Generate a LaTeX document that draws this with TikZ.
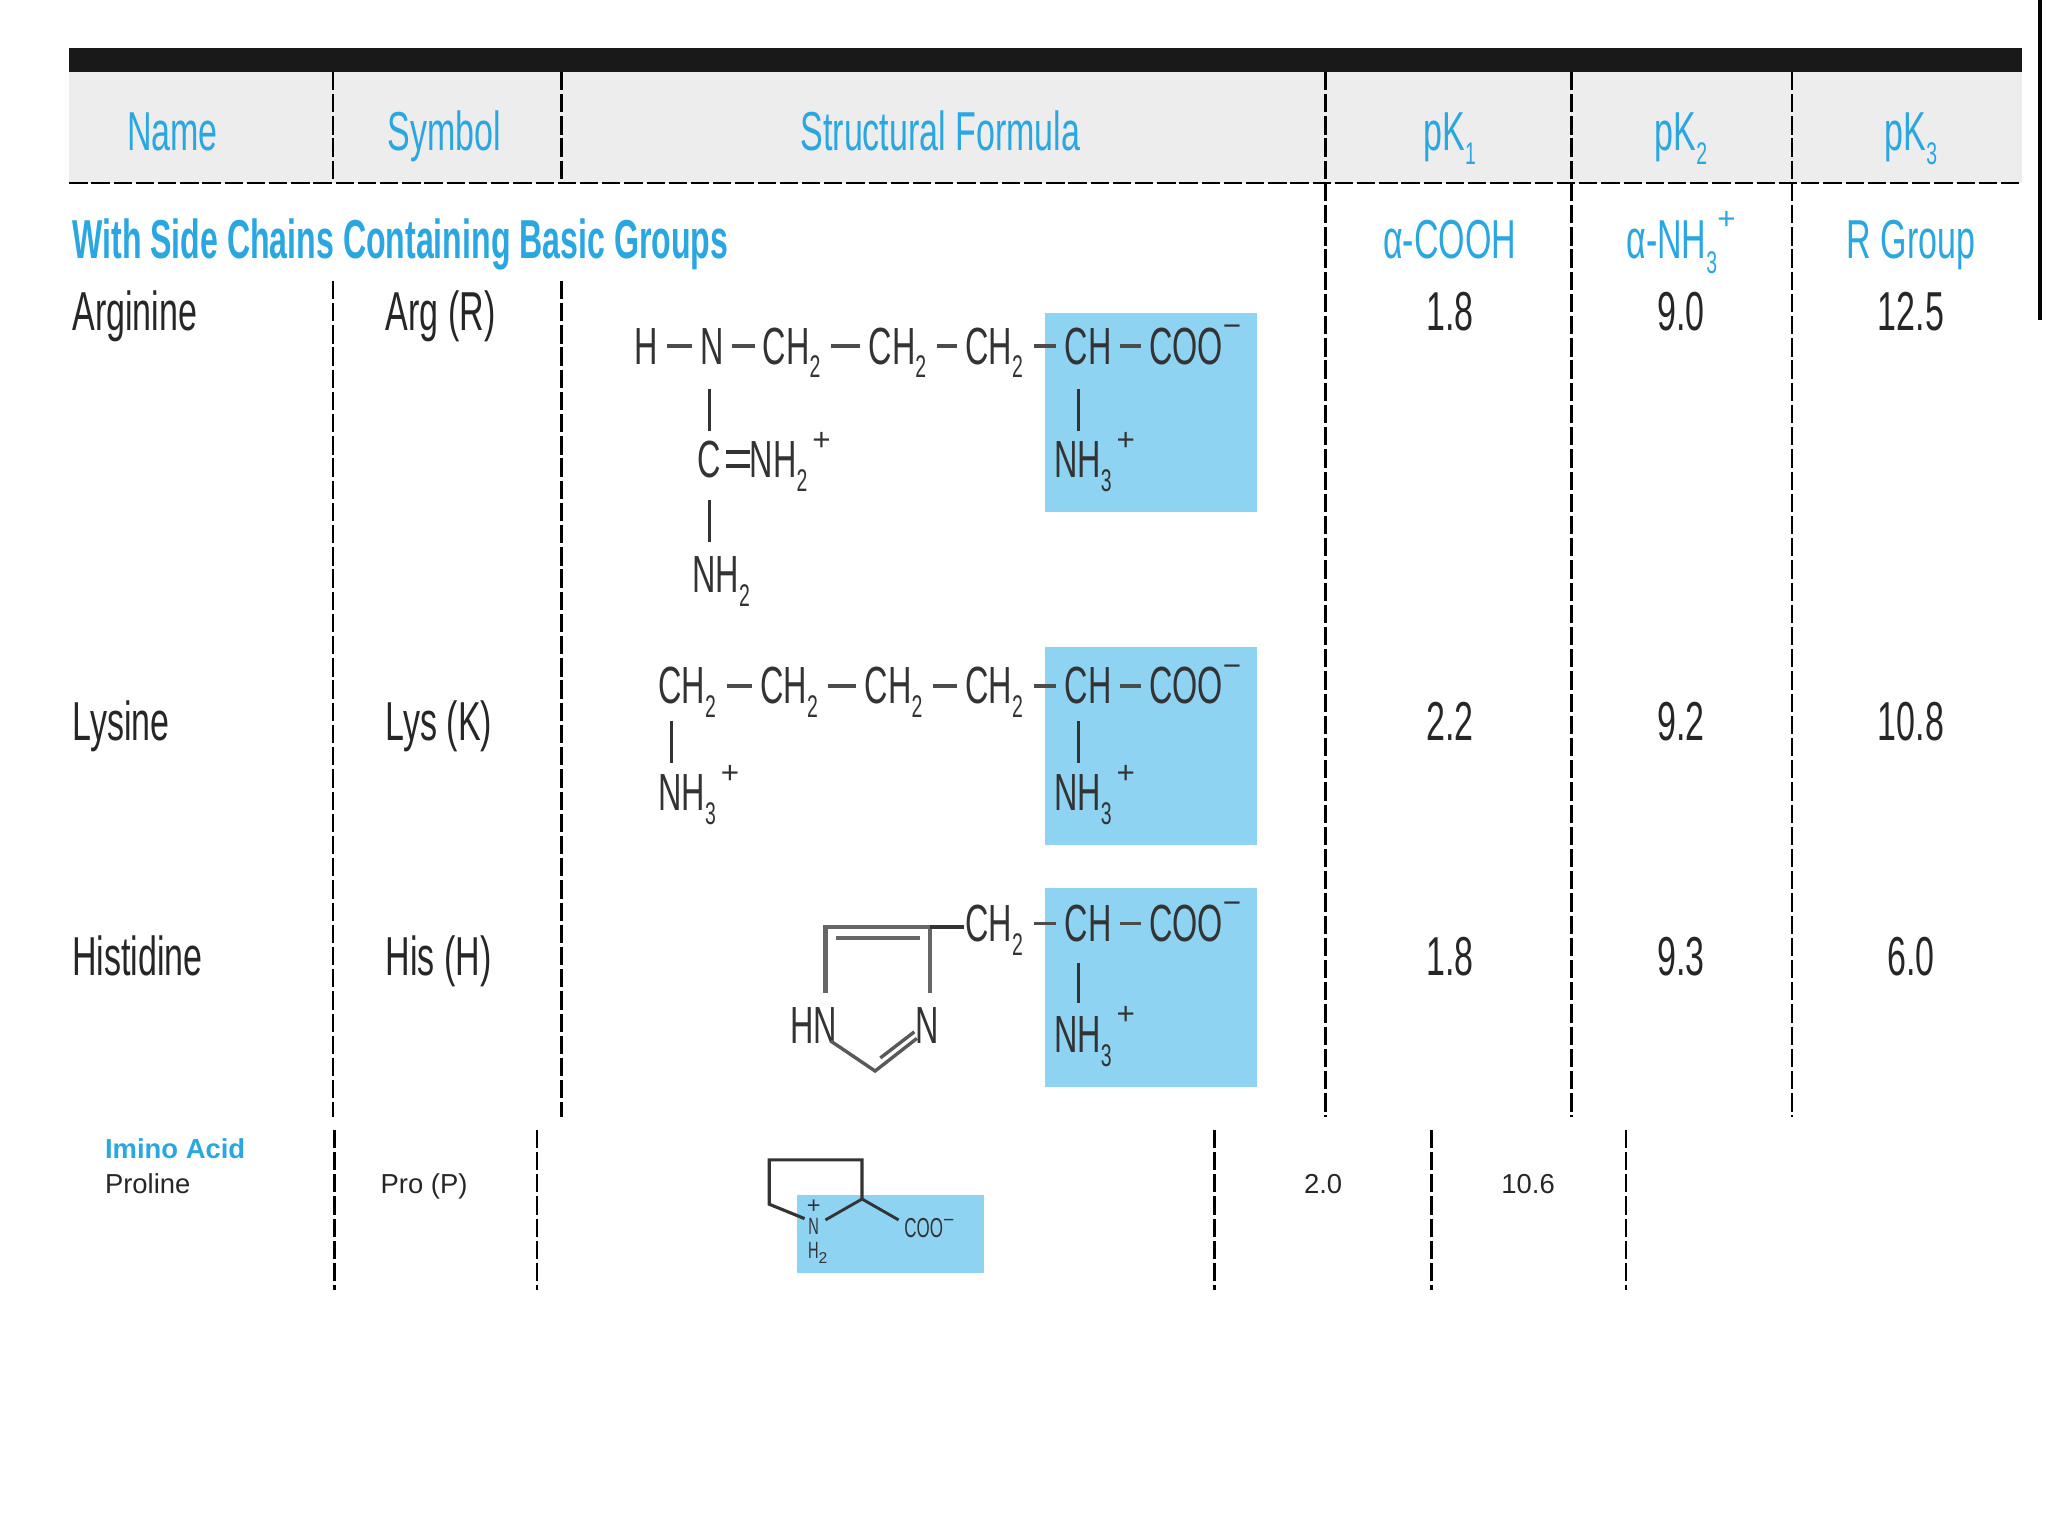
\documentclass[tikz,border=0pt]{standalone}
\usepackage{fontspec}
\setmainfont{Liberation Sans}
\usepackage{graphicx}
\definecolor{hb}{HTML}{2AA7E1}
\definecolor{bx}{HTML}{8FD3F2}
\definecolor{hg}{HTML}{EDEDED}
\newcommand\cn[1]{\scalebox{0.62}[1]{#1}}
\newcommand\sbs[1]{\smash{\raisebox{-0.5ex}{\fontsize{12}{12}\selectfont\cn{#1}}}}
\newcommand\sps[1]{\smash{\raisebox{1.0ex}{\fontsize{12}{12}\selectfont #1}}}
\newcommand\rs[1]{\rlap{\sbs{#1}}}
\begin{document}
\begin{tikzpicture}[x=0.5pt,y=-0.5pt,
  hdr/.style={text=hb,font=\fontsize{21}{24}\selectfont,anchor=base},
  big/.style={font=\fontsize{21}{24}\selectfont,anchor=base,text=black!85},
  ch/.style={font=\fontsize{20}{24}\selectfont,inner sep=0pt,anchor=center,text=black!80},
  sm/.style={font=\fontsize{10.5}{12}\selectfont,anchor=base west,text=black!85},
  bond/.style={line width=1.4pt,black!70,shorten <=3pt,shorten >=3pt},
  vb/.style={line width=1.1pt,black!80},
  col/.style={dashed,dash pattern=on 7pt off 1.5pt,line width=1pt,black}]
\fill[white] (0,0) rectangle (1568,1176);
\useasboundingbox (0,0) rectangle (1568,1176);
% header
\fill[hg] (53,55) rectangle (1548,140);
\fill[black!90] (53,37) rectangle (1548,55);
\draw[col] (53,140) -- (1548,140);
\draw[black,line width=1.5pt] (1562,0) -- (1562,245);
\foreach \x in {255,430} {\draw[col] (\x,55) -- (\x,140); \draw[col] (\x,215) -- (\x,855);}
\foreach \x in {1015,1203,1372} \draw[col] (\x,55) -- (\x,855);
\foreach \x in {256,411,930,1096,1245} \draw[col] (\x,865) -- (\x,988);
\node[hdr] (hn) at (132,115) {\cn{Name}};
\node[hdr] (hs) at (340,115) {\cn{Symbol}};
\node[hdr] (hf) at (720,115) {\cn{Structural Formula}};
\node[hdr] (h1) at (1110,115) {\cn{pK}\sbs{1}};
\node[hdr] (h2) at (1287,115) {\cn{pK}\sbs{2}};
\node[hdr] (h3) at (1463,115) {\cn{pK}\sbs{3}};
\node[hdr,anchor=base west,inner sep=0pt] (sc) at (55,198) {\scalebox{0.585}[1]{\textbf{With Side Chains Containing Basic Groups}}};
\node[hdr] (s1) at (1110,198) {\cn{α-COOH}};
\node[hdr] (s2) at (1287,198) {\cn{α-NH}\sbs{3}\sps{+}};
\node[hdr] (s3) at (1463,198) {\cn{R Group}};
% rows
\node[big,anchor=base west,inner sep=0pt] (arg) at (55,253) {\cn{Arginine}};
\node[big,anchor=base west,inner sep=0pt] (argS) at (295,253) {\cn{Arg (R)}};
\node[big] (arg1) at (1110,253) {\cn{1.8}};
\node[big] (arg2) at (1287,253) {\cn{9.0}};
\node[big] (arg3) at (1463,253) {\cn{12.5}};
\node[big,anchor=base west,inner sep=0pt] (lys) at (55,567) {\cn{Lysine}};
\node[big,anchor=base west,inner sep=0pt] (lysS) at (295,567) {\cn{Lys (K)}};
\node[big] (lys1) at (1110,567) {\cn{2.2}};
\node[big] (lys2) at (1287,567) {\cn{9.2}};
\node[big] (lys3) at (1463,567) {\cn{10.8}};
\node[big,anchor=base west,inner sep=0pt] (his) at (55,747) {\cn{Histidine}};
\node[big,anchor=base west,inner sep=0pt] (hisS) at (295,747) {\cn{His (H)}};
\node[big] (his1) at (1110,747) {\cn{1.8}};
\node[big] (his2) at (1287,747) {\cn{9.3}};
\node[big] (his3) at (1463,747) {\cn{6.0}};
% blue boxes
\fill[bx] (800,240) rectangle (962,392);
\fill[bx] (800,495) rectangle (962,647);
\fill[bx] (800,680) rectangle (962,832);
\fill[bx] (610,915) rectangle (753,975);
% arginine formula
\node[ch] (a1) at (495,265) {\cn{H}};
\node[ch] (a2) at (545,265) {\cn{N}};
\node[ch] (a3) at (602,265) {\cn{CH}\rs{2}};
\node[ch] (a4) at (683,265) {\cn{CH}\rs{2}};
\node[ch] (a5) at (757,265) {\cn{CH}\rs{2}};
\node[ch] (a6) at (833,265) {\cn{CH}};
\node[ch] (a7) at (908,265) {\cn{COO}\rlap{\sps{−}}};
\draw[bond] (a1) -- (a2);
\draw[bond] (a2) -- (a3);
\draw[bond,shorten <=8pt] (a3) -- (a4);
\draw[bond,shorten <=8pt] (a4) -- (a5);
\draw[bond,shorten <=8pt] (a5) -- (a6);
\draw[bond] (a6) -- (a7);
\node[ch] (ac) at (543,352) {\cn{C}};
\node[ch] (an) at (592,352) {\cn{NH}\rs{2}\rlap{\kern6pt\sps{+}}};
\node[ch] (an2) at (548,440) {\cn{NH}\rs{2}};
\node[ch] (aa) at (825,352) {\cn{NH}\rs{3}\rlap{\kern6pt\sps{+}}};
\draw[vb] (543,298) -- (543,330);
\draw[vb] (543,383) -- (543,415);
\draw[vb] (826,298) -- (826,330);
\draw[line width=1.4pt,black!80] (556,346) -- (574,346) (556,357) -- (574,357);
% lysine formula
\node[ch] (l1) at (522,525) {\cn{CH}\rs{2}};
\node[ch] (l2) at (600,525) {\cn{CH}\rs{2}};
\node[ch] (l3) at (680,525) {\cn{CH}\rs{2}};
\node[ch] (l4) at (757,525) {\cn{CH}\rs{2}};
\node[ch] (l5) at (833,525) {\cn{CH}};
\node[ch] (l6) at (908,525) {\cn{COO}\rlap{\sps{−}}};
\draw[bond,shorten <=8pt] (l1) -- (l2);
\draw[bond,shorten <=8pt] (l2) -- (l3);
\draw[bond,shorten <=8pt] (l3) -- (l4);
\draw[bond,shorten <=8pt] (l4) -- (l5);
\draw[bond] (l5) -- (l6);
\node[ch] (ln) at (522,607) {\cn{NH}\rs{3}\rlap{\kern6pt\sps{+}}};
\node[ch] (la) at (825,607) {\cn{NH}\rs{3}\rlap{\kern6pt\sps{+}}};
\draw[vb] (514,552) -- (514,584);
\draw[vb] (826,552) -- (826,584);
% histidine formula
\node[ch] (h4) at (757,707) {\cn{CH}\rs{2}};
\node[ch] (h5) at (833,707) {\cn{CH}};
\node[ch] (h6) at (908,707) {\cn{COO}\rlap{\sps{−}}};
\draw[bond,shorten <=8pt] (h4) -- (h5);
\draw[bond] (h5) -- (h6);
\node[ch] (hh) at (623,785) {\cn{HN}};
\node[ch] (hN) at (710,785) {\cn{N}};
\node[ch] (ha) at (825,792) {\cn{NH}\rs{3}\rlap{\kern6pt\sps{+}}};
\draw[vb] (826,737) -- (826,768);
\draw[line width=1.6pt,black!60] (632,760) -- (632,710) -- (712,710) -- (712,760);
\draw[line width=1.6pt,black!60] (640,718) -- (704,718);
\draw[line width=1.6pt,black!80] (712,710) -- (738,710);
\draw[line width=1.3pt,black!65] (636,797) -- (670,820) -- (702,795);
\draw[line width=1.3pt,black!65] (674,810) -- (700,790);
% proline
\node[font=\fontsize{10.5}{12}\selectfont\bfseries,text=hb,anchor=base west,inner sep=0pt] (im) at (80,887) {Imino Acid};
\node[sm,inner sep=0pt] (pro) at (80,914) {Proline};
\node[sm,inner sep=0pt] (proS) at (291,914) {Pro (P)};
\node[sm,anchor=base] (p1) at (1013,914) {2.0};
\node[sm,anchor=base] (p2) at (1170,914) {10.6};
\node[font=\fontsize{9}{10}\selectfont,inner sep=0pt,text=black!80] (pN) at (623,939) {\cn{N}};
\node[font=\fontsize{9}{10}\selectfont,inner sep=0pt,text=black!80] (pP) at (623,924) {+};
\node[font=\fontsize{9}{10}\selectfont,inner sep=0pt,text=black!80] (pH) at (626,959) {\cn{H}\raisebox{-0.4ex}{\fontsize{6}{7}\selectfont 2}};
\node[font=\fontsize{10.5}{12}\selectfont,inner sep=0pt,text=black!80] (pC) at (712,940) {\cn{COO}\textsuperscript{−}};
\draw[line width=1.2pt,black!80] (616,933) -- (589,922) -- (589,888) -- (660,888) -- (660,918);
\draw[line width=1.1pt,black!80] (632,934) -- (660,918) -- (688,934);
\end{tikzpicture}
\end{document}
